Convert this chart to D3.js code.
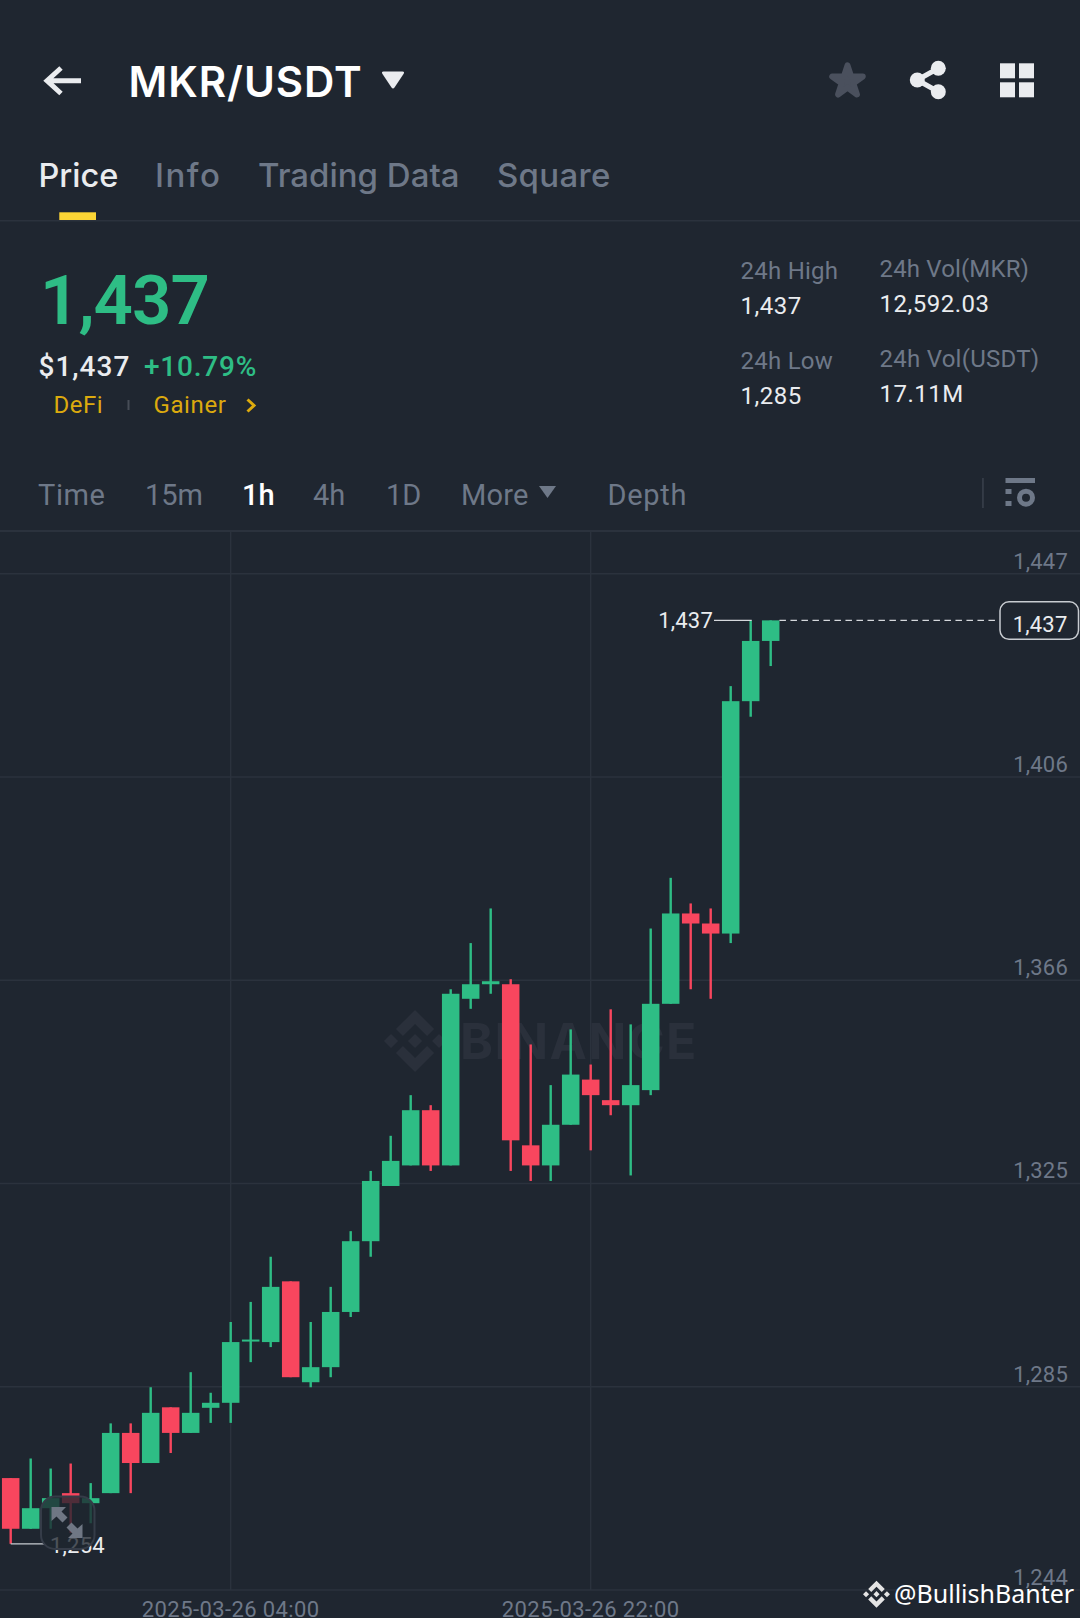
<!DOCTYPE html>
<html>
<head>
<meta charset="utf-8">
<script src="https://cdn.jsdelivr.net/npm/d3@7"></script>
<style>
  html, body { margin: 0; padding: 0; background: #1f2630; overflow: hidden; }
  svg { display: block; }
  text { font-family: Roboto, sans-serif; }
</style>
</head>
<body>
<svg id="chart" width="1080" height="1618"></svg>
<script>
// hourly candles
var hours = [
  "2025-03-25 17:00", "2025-03-25 18:00", "2025-03-25 19:00", "2025-03-25 20:00", "2025-03-25 21:00",
  "2025-03-25 22:00", "2025-03-25 23:00", "2025-03-26 00:00", "2025-03-26 01:00", "2025-03-26 02:00",
  "2025-03-26 03:00", "2025-03-26 04:00", "2025-03-26 05:00", "2025-03-26 06:00", "2025-03-26 07:00",
  "2025-03-26 08:00", "2025-03-26 09:00", "2025-03-26 10:00", "2025-03-26 11:00", "2025-03-26 12:00",
  "2025-03-26 13:00", "2025-03-26 14:00", "2025-03-26 15:00", "2025-03-26 16:00", "2025-03-26 17:00",
  "2025-03-26 18:00", "2025-03-26 19:00", "2025-03-26 20:00", "2025-03-26 21:00", "2025-03-26 22:00",
  "2025-03-26 23:00", "2025-03-27 00:00", "2025-03-27 01:00", "2025-03-27 02:00", "2025-03-27 03:00",
  "2025-03-27 04:00", "2025-03-27 05:00", "2025-03-27 06:00", "2025-03-27 07:00"
];
var opens = [1266.4, 1256.3, 1260.4, 1263.4, 1261.4, 1263.4, 1275.4, 1269.4, 1280.5, 1275.4,
  1280.4, 1281.4, 1293.6, 1293.5, 1305.6, 1285.5, 1288.5, 1299.5, 1313.6, 1324.6,
  1328.7, 1339.7, 1328.7, 1361.9, 1364.8, 1364.8, 1332.7, 1328.7, 1336.8, 1345.8,
  1341.7, 1340.7, 1343.7, 1360.9, 1378.9, 1376.9, 1374.9, 1421.2, 1433.2];
var highs = [1266.4, 1270.3, 1268.3, 1269.3, 1265.4, 1277.3, 1277.3, 1284.5, 1280.5, 1287.5,
  1283.4, 1297.5, 1301.5, 1310.5, 1305.6, 1297.5, 1304.5, 1315.6, 1327.6, 1334.6,
  1342.7, 1340.7, 1363.8, 1373.0, 1379.9, 1365.8, 1352.8, 1344.7, 1355.8, 1348.8,
  1359.8, 1356.8, 1375.9, 1386.0, 1380.9, 1379.9, 1424.2, 1437.3, 1437.3];
var lows = [1253.3, 1256.3, 1256.3, 1255.5, 1257.4, 1263.4, 1263.4, 1269.4, 1271.4, 1275.4,
  1277.4, 1277.4, 1289.5, 1292.5, 1286.5, 1284.5, 1286.5, 1298.5, 1310.5, 1324.6,
  1328.7, 1327.6, 1328.7, 1359.9, 1362.9, 1327.6, 1325.6, 1325.6, 1336.8, 1331.7,
  1338.7, 1326.7, 1342.7, 1360.9, 1363.8, 1361.9, 1373.0, 1418.1, 1428.2];
var closes = [1256.3, 1260.4, 1262.4, 1261.4, 1262.4, 1275.4, 1269.4, 1279.4, 1275.4, 1279.4,
  1281.4, 1293.5, 1294.0, 1304.5, 1286.5, 1288.5, 1299.5, 1313.6, 1325.6, 1329.6,
  1339.7, 1328.7, 1362.9, 1364.8, 1365.4, 1333.7, 1328.7, 1336.8, 1346.8, 1342.7,
  1340.7, 1344.7, 1360.9, 1378.9, 1376.9, 1374.9, 1421.2, 1433.2, 1437.3];

var yTicks = [1446.6, 1406.1, 1365.6, 1325.1, 1284.6, 1244.1];
var yTickLabels = ["1,447", "1,406", "1,366", "1,325", "1,285", "1,244"];
var xTicks = ["2025-03-26 04:00", "2025-03-26 22:00"];
var lastPriceLabel = "1,437";
var lowLabel = "1,254";

var BG = "#1f2630", GRID = "#2b323d", GREEN = "#2ebd85", RED = "#f8465e", GOLD = "#dcaa0e",
    MUTED = "#6e7888", LIGHT = "#eaecef";

var BINANCE_LOGO = "M38.73 53.2l24.59-24.58 24.6 24.6 14.3-14.31L63.32 0 24.42 38.9zM0 63.31l14.3-14.31 14.31 14.31-14.31 14.3zM38.73 73.41L63.32 98l24.6-24.6 14.31 14.29-38.91 38.91-38.9-38.88-.02-.02zM98 63.31l14.3-14.31 14.31 14.3-14.31 14.32zM77.83 63.3L63.32 48.78 52.59 59.51l-1.24 1.23-2.54 2.54 14.51 14.5 14.51-14.47z";

var svg = d3.select("#chart");

var candles = hours.map(function(h, i) {
  return { hour: h, open: opens[i], high: highs[i], low: lows[i], close: closes[i] };
});

var x = d3.scaleBand().domain(hours).range([0.7, 780.7]).paddingInner(0.125).paddingOuter(0.0625);
var y = d3.scaleLinear().domain([1244.1, 1446.6]).range([1590, 573.7]);

function label(parent, str, px, py, size, color, weight, anchor, family, spacing) {
  return parent.append("text")
    .attr("x", px).attr("y", py)
    .attr("font-size", size)
    .attr("fill", color)
    .attr("font-weight", weight || 400)
    .attr("text-anchor", anchor || "start")
    .style("font-family", family || null)
    .style("letter-spacing", spacing || null)
    .text(str);
}

svg.append("rect").attr("width", 1080).attr("height", 1618).attr("fill", BG);

// ---- top bar
var head = svg.append("g");
head.append("path")
  .attr("d", "M81 80.7H47M61 68L47 80.7L61 93.5")
  .attr("fill", "none").attr("stroke", LIGHT).attr("stroke-width", 5);
label(head, "MKR/USDT", 128.5, 97.3, 42, "#ffffff", 600, "start", "Inter", "0.95px");
head.append("path")
  .attr("d", "M383.5 71.5H402.5Q405 71.5 403.5 74L394.5 87.5Q393 89.5 391.5 87.5L382.5 74Q381 71.5 383.5 71.5Z")
  .attr("fill", LIGHT);
head.append("path")
  .attr("d", d3.symbol().type(d3.symbolStar).size(290))
  .attr("transform", "translate(847.5,81.5)")
  .attr("fill", "#4a505d").attr("stroke", "#4a505d").attr("stroke-width", 6).attr("stroke-linejoin", "round");
head.append("path")
  .attr("d", "M938.3 68.3L917.3 80L938.3 91.7")
  .attr("fill", "none").attr("stroke", LIGHT).attr("stroke-width", 5);
[[938.3, 68.3], [917.3, 80], [938.3, 91.7]].forEach(function(c) {
  head.append("circle").attr("cx", c[0]).attr("cy", c[1]).attr("r", 7.5).attr("fill", LIGHT);
});
[[1000, 63.3], [1019, 63.3], [1000, 82.3], [1019, 82.3]].forEach(function(c) {
  head.append("rect").attr("x", c[0]).attr("y", c[1]).attr("width", 15).attr("height", 15).attr("fill", LIGHT);
});

// ---- tabs
label(head, "Price", 38.5, 186.7, 32.5, LIGHT, 500, "start", "Inter");
label(head, "Info", 155, 186.7, 33, MUTED, 500, "start", "Inter", "1.5px");
label(head, "Trading Data", 258, 186.7, 33, MUTED, 500, "start", "Inter");
label(head, "Square", 497, 186.7, 33, MUTED, 500, "start", "Inter", "0.3px");
head.append("rect").attr("x", 59.3).attr("y", 212.3).attr("width", 36.7).attr("height", 8).attr("fill", "#fcd535");
head.append("rect").attr("x", 0).attr("y", 220).attr("width", 1080).attr("height", 1.5).attr("fill", GRID);

// ---- price block
label(head, "1,437", 40, 324, 69, GREEN, 600, "start", null, "-1px");
label(head, "$1,437", 38.5, 376, 28, LIGHT, 500, "start", null, "1px");
label(head, "+10.79%", 144, 376, 28, GREEN, 500, "start", null, "0.8px");
label(head, "DeFi", 53.5, 413.3, 24, GOLD, 400, "start", null, "0.5px");
head.append("rect").attr("x", 127.5).attr("y", 400).attr("width", 2).attr("height", 10).attr("fill", "#474d57");
label(head, "Gainer", 153.5, 413.3, 24, GOLD, 400, "start", null, "0.6px");
head.append("path").attr("d", "M247.5 399.5L254 405.5L247.5 411.5")
  .attr("fill", "none").attr("stroke", GOLD).attr("stroke-width", 3);

// ---- 24h stats
label(head, "24h High", 740.5, 279.3, 24, MUTED, 400, "start", null, "0.25px");
label(head, "1,437", 740.5, 314.3, 24, LIGHT, 400, "start", null, "0.5px");
label(head, "24h Low", 740.5, 369, 24, MUTED, 400, "start", null, "0.25px");
label(head, "1,285", 740.5, 404.3, 24, LIGHT, 400, "start", null, "0.5px");
label(head, "24h Vol(MKR)", 879.5, 277.3, 24, MUTED, 400, "start", null, "0.15px");
label(head, "12,592.03", 879.5, 311.7, 24, LIGHT, 400, "start", null, "0.5px");
label(head, "24h Vol(USDT)", 879.5, 367.3, 24, MUTED, 400, "start", null, "0.25px");
label(head, "17.11M", 879.5, 401.7, 24, LIGHT, 400, "start", null, "0.5px");

// ---- interval row
label(head, "Time", 38, 505, 29, MUTED, 400, "start", null, "0.6px");
label(head, "15m", 145, 505, 29, MUTED);
label(head, "1h", 242, 505, 29, "#ffffff", 500);
label(head, "4h", 313, 505, 29, MUTED);
label(head, "1D", 386, 505, 29, MUTED);
label(head, "More", 461, 505, 29, MUTED, 400, "start", null, "0.2px");
head.append("path").attr("d", "M539 486H556L547.5 498Z").attr("fill", MUTED);
label(head, "Depth", 607.5, 505, 29, MUTED, 400, "start", null, "0.7px");
head.append("rect").attr("x", 982.2).attr("y", 478).attr("width", 1.5).attr("height", 30).attr("fill", "#3a414c");
head.append("rect").attr("x", 1005.5).attr("y", 478).attr("width", 29.5).attr("height", 5).attr("fill", MUTED);
head.append("rect").attr("x", 1005.5).attr("y", 489).attr("width", 6).attr("height", 5).attr("fill", MUTED);
head.append("rect").attr("x", 1005.5).attr("y", 501).attr("width", 6).attr("height", 5).attr("fill", MUTED);
head.append("circle").attr("cx", 1026).attr("cy", 497.7).attr("r", 6.5)
  .attr("fill", "none").attr("stroke", MUTED).attr("stroke-width", 5);
head.append("rect").attr("x", 0).attr("y", 530).attr("width", 1080).attr("height", 2).attr("fill", GRID);

// ---- axes and grid
var gy = svg.append("g").attr("class", "axis axis--y")
  .call(d3.axisRight(y).tickValues(yTicks).tickSize(1080).offset(0)
    .tickFormat(function(d, i) { return yTickLabels[i]; }));
gy.select(".domain").remove();
gy.selectAll("line").attr("stroke", GRID).attr("stroke-width", 1.4);
gy.selectAll("text")
  .attr("x", 1068).attr("y", -5).attr("dy", 0)
  .attr("text-anchor", "end").attr("font-size", 22).attr("fill", MUTED)
  .style("letter-spacing", "0.2px");

var gx = svg.append("g").attr("class", "axis axis--x")
  .attr("transform", "translate(0," + y(1244.1) + ")")
  .call(d3.axisBottom(x).tickValues(xTicks).tickSize(-(y(1244.1) - 531)).offset(0));
gx.select(".domain").remove();
gx.selectAll("line").attr("stroke", GRID).attr("stroke-width", 1.4);
gx.selectAll("text")
  .attr("y", 26.5).attr("dy", 0).attr("font-size", 22).attr("fill", MUTED)
  .style("letter-spacing", "0.4px");

// ---- watermark
svg.append("path").attr("d", BINANCE_LOGO)
  .attr("transform", "translate(384,1010) scale(0.49)").attr("fill", "#2a303b");
label(svg, "BINANCE", 460, 1059, 50, "#2a303b", 700, "start", "Inter", "1.4px");

// ---- candles
var g = svg.append("g");
function candleColor(d) { return d.close >= d.open ? GREEN : RED; }

g.selectAll(".wick").data(candles).enter().append("rect")
  .attr("class", "wick")
  .attr("x", function(d) { return x(d.hour) + x.bandwidth() / 2 - 1.2; })
  .attr("width", 2.4)
  .attr("y", function(d) { return y(d.high); })
  .attr("height", function(d) { return y(d.low) - y(d.high); })
  .attr("fill", candleColor);

g.selectAll(".body").data(candles).enter().append("rect")
  .attr("class", "body")
  .attr("x", function(d) { return x(d.hour); })
  .attr("width", x.bandwidth())
  .attr("y", function(d) { return y(Math.max(d.open, d.close)); })
  .attr("height", function(d) { return Math.abs(y(d.open) - y(d.close)); })
  .attr("fill", candleColor);

// ---- high / low / last markers
var last = candles[candles.length - 1];
var highest = d3.greatest(candles, function(d) { return d.high; });
var lowest = d3.least(candles, function(d) { return d.low; });
var highX = x(highest.hour) + x.bandwidth() / 2;
var lowX = x(lowest.hour) + x.bandwidth() / 2;

svg.append("line")
  .attr("x1", 714).attr("x2", highX + 1)
  .attr("y1", y(highest.high)).attr("y2", y(highest.high))
  .attr("stroke", "#d5d8dc").attr("stroke-width", 1.4);
label(svg, lastPriceLabel, 713, y(highest.high) + 8, 22, LIGHT, 400, "end", null, "0.2px");

svg.append("line")
  .attr("x1", lowX).attr("x2", 44)
  .attr("y1", y(lowest.low)).attr("y2", y(lowest.low))
  .attr("stroke", "#c8ccd1").attr("stroke-width", 1.4);
label(svg, lowLabel, 50, y(lowest.low) + 9, 22, LIGHT, 400, "start", null, "0.2px");

svg.append("line")
  .attr("x1", x(last.hour) + x.bandwidth()).attr("x2", 996)
  .attr("y1", y(last.close)).attr("y2", y(last.close))
  .attr("stroke", "#d5d8dc").attr("stroke-width", 1.4)
  .attr("stroke-dasharray", "6.5,4.5");
svg.append("rect")
  .attr("x", 1000).attr("y", y(last.close) - 18.5)
  .attr("width", 78.5).attr("height", 37.5).attr("rx", 9)
  .attr("fill", BG).attr("stroke", "#c8ccd1").attr("stroke-width", 1.5);
label(svg, lastPriceLabel, 1067.5, y(last.close) + 12, 22, LIGHT, 400, "end", null, "0.2px");

// ---- collapse button
var btn = svg.append("g");
btn.append("rect").attr("x", 41).attr("y", 1496.5).attr("width", 53.5).attr("height", 52.5).attr("rx", 14)
  .attr("fill", BG).attr("fill-opacity", 0.78).attr("stroke", "#353c48").attr("stroke-width", 2);
btn.append("path")
  .attr("d", "M51.5 1507H66L61.5 1511.5L67.5 1517.5L62.5 1522.5L56.5 1516.5L51.5 1521Z")
  .attr("fill", "#6f7784");
btn.append("path")
  .attr("d", "M82.5 1538H68L72.5 1533.5L66.5 1527.5L71.5 1522.5L77.5 1528.5L82.5 1524Z")
  .attr("fill", "#6f7784");

// ---- repost stamp
svg.append("path").attr("d", BINANCE_LOGO)
  .attr("transform", "translate(863,1580.7) scale(0.213)").attr("fill", "#e4e4e4");
label(svg, "@BullishBanter", 894, 1603, 25, "#ffffff", 400, "start", "Noto Sans");
</script>
</body>
</html>
